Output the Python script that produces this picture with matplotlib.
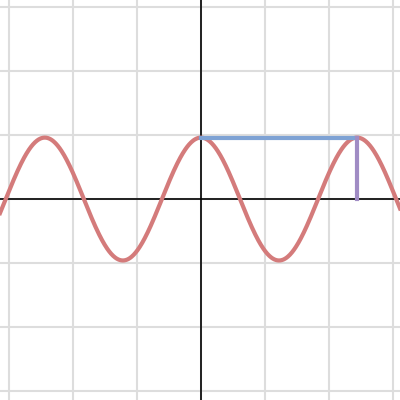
import numpy as np
import matplotlib.pyplot as plt

# curve: y = amplitude * cos(2*pi*x / period)
period = 2.44
amplitude = 0.96
x_range = (-3.14, 3.11)
y_range = (-3.14, 3.11)

fig = plt.figure(figsize=(4, 4), dpi=100)
ax = fig.add_axes([0, 0, 1, 1])
ax.set_xlim(*x_range)
ax.set_ylim(*y_range)

for v in range(-3, 4):
    ax.axvline(v, color='#dddddd', lw=1.5, zorder=0)
    ax.axhline(v, color='#dddddd', lw=1.5, zorder=0)
ax.axvline(0, color='black', lw=1.2, zorder=1)
ax.axhline(0, color='black', lw=1.2, zorder=1)

x = np.linspace(x_range[0], x_range[1], 800)
ax.plot(x, amplitude * np.cos(2 * np.pi * x / period), color='#d47b7b', lw=3, zorder=2)
ax.plot([0, period], [amplitude, amplitude], color='#7ea2d4', lw=3, zorder=3)
ax.plot([period, period], [0, amplitude], color='#a08cc4', lw=3, zorder=3)

ax.set_xticks([])
ax.set_yticks([])
for s in ax.spines.values():
    s.set_visible(False)

fig.savefig('out.png', dpi=100)
